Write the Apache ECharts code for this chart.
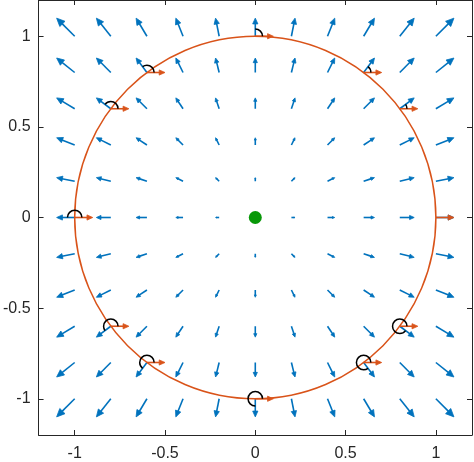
<!DOCTYPE html>
<html>
<head>
<meta charset="utf-8">
<script src="https://cdn.jsdelivr.net/npm/echarts@6/dist/echarts.min.js"></script>
<style>
html,body{margin:0;padding:0;background:#fff;}
#chart{width:474px;height:462px;}
</style>
</head>
<body>
<div id="chart"></div>
<script>
// Quiver grid positions
var gridX = [-1, -0.8, -0.6, -0.4, -0.2, 0, 0.2, 0.4, 0.6, 0.8, 1];
var gridY = [-1, -0.8, -0.6, -0.4, -0.2, 0, 0.2, 0.4, 0.6, 0.8, 1];
// Arrow components (data units) read per column / per row
var arrowDx = [-0.1, -0.08, -0.06, -0.04, -0.02, 0, 0.02, 0.04, 0.06, 0.08, 0.1];
var arrowDy = [-0.1, -0.08, -0.06, -0.04, -0.02, 0, 0.02, 0.04, 0.06, 0.08, 0.1];
// Circle
var circleCenter = [0, 0];
var circleRadius = 1;
// Points on circle with angle arcs and x-direction arrows
var ptX = [1, 0.8, 0.6, 0, -0.6, -0.8, -1, -0.8, -0.6, 0, 0.6, 0.8];
var ptY = [0, 0.6, 0.8, 1, 0.8, 0.6, 0, -0.6, -0.8, -1, -0.8, -0.6];
var ptAngleDeg = [0, 36.87, 53.13, 90, 126.87, 143.13, 180, 216.87, 233.13, 270, 306.87, 323.13];
var arcRadius = 0.04;
var tangentDx = 0.1;
// Origin marker
var originPt = [0, 0];
// Ticks
var tickVals = [-1, -0.5, 0, 0.5, 1];
var xTickLabels = ['-1', '-0.5', '0', '0.5', '1'];
var yTickLabels = ['-1', '-0.5', '0', '0.5', '1'];

var BLUE = '#0072BD', ORANGE = '#D95319', AXC = '#262626';

var quiverData = [];
for (var i = 0; i < gridY.length; i++) {
  for (var j = 0; j < gridX.length; j++) {
    quiverData.push([gridX[j], gridY[i], arrowDx[j], arrowDy[i]]);
  }
}
var tangentData = [];
var arcData = [];
for (var k = 0; k < ptX.length; k++) {
  tangentData.push([ptX[k], ptY[k], tangentDx, 0]);
  arcData.push([ptX[k], ptY[k], ptAngleDeg[k]]);
}

function arrowItem(color, lw) {
  return function (params, api) {
    var x = api.value(0), y = api.value(1), dx = api.value(2), dy = api.value(3);
    var p0 = api.coord([x, y]);
    var p1 = api.coord([x + dx, y + dy]);
    var vx = p1[0] - p0[0], vy = p1[1] - p0[1];
    var len = Math.sqrt(vx * vx + vy * vy);
    if (len < 0.01) return { type: 'group', children: [] };
    var ux = vx / len, uy = vy / len;
    var hl = 0.32 * len, hw = 0.45 * hl;
    var bx = p1[0] - ux * hl, by = p1[1] - uy * hl;
    return {
      type: 'group',
      children: [
        { type: 'line', shape: { x1: p0[0], y1: p0[1], x2: bx + ux * 0.5, y2: by + uy * 0.5 },
          style: { stroke: color, lineWidth: lw } },
        { type: 'polygon', shape: { points: [[p1[0], p1[1]], [bx - uy * hw, by + ux * hw], [bx + uy * hw, by - ux * hw]] },
          style: { fill: color, stroke: color, lineWidth: 0.8, lineJoin: 'miter' } }
      ]
    };
  };
}

function tickFmt(labels) {
  return function (v) {
    for (var i = 0; i < tickVals.length; i++) if (Math.abs(v - tickVals[i]) < 1e-9) return labels[i];
    return '';
  };
}

var chart = echarts.init(document.getElementById('chart'), null, { renderer: 'canvas' });
var axisCommon = {
  type: 'value', min: -1.2, max: 1.2,
  axisLine: { show: true, onZero: false, lineStyle: { color: AXC, width: 1 } },
  splitLine: { show: false }
};
chart.setOption({
  animation: false,
  backgroundColor: '#fff',
  grid: { left: 35, right: 2, top: 0, bottom: 25, containLabel: false },
  xAxis: [
    Object.assign({}, axisCommon, {
      position: 'bottom',
      axisTick: { show: true, inside: true, length: 5, customValues: tickVals, lineStyle: { color: AXC } },
      axisLabel: { show: true, customValues: tickVals, formatter: tickFmt(xTickLabels), margin: 11,
        color: AXC, fontSize: 16, fontFamily: 'Liberation Sans, Arial, sans-serif' }
    }),
    Object.assign({}, axisCommon, {
      position: 'top',
      axisTick: { show: true, inside: true, length: 5, customValues: tickVals, lineStyle: { color: AXC } },
      axisLabel: { show: false }
    })
  ],
  yAxis: [
    Object.assign({}, axisCommon, {
      position: 'left',
      axisTick: { show: true, inside: true, length: 5, customValues: tickVals, lineStyle: { color: AXC } },
      axisLabel: { show: true, customValues: tickVals, formatter: tickFmt(yTickLabels), margin: 8,
        color: AXC, fontSize: 16, fontFamily: 'Liberation Sans, Arial, sans-serif' }
    }),
    Object.assign({}, axisCommon, {
      position: 'right',
      axisTick: { show: true, inside: true, length: 5, customValues: tickVals, lineStyle: { color: AXC } },
      axisLabel: { show: false }
    })
  ],
  series: [
    {
      type: 'custom', name: 'field', xAxisIndex: 0, yAxisIndex: 0,
      data: quiverData, renderItem: arrowItem(BLUE, 1.6), z: 2, silent: true,
      encode: { x: 0, y: 1 }
    },
    {
      type: 'custom', name: 'circle', xAxisIndex: 0, yAxisIndex: 0,
      data: [[circleCenter[0], circleCenter[1], circleRadius]], z: 3, silent: true,
      encode: { x: 0, y: 1 },
      renderItem: function (params, api) {
        var c = api.coord([api.value(0), api.value(1)]);
        var s = api.size([api.value(2), api.value(2)]);
        return { type: 'ellipse', shape: { cx: c[0], cy: c[1], rx: s[0], ry: s[1] },
          style: { fill: 'none', stroke: ORANGE, lineWidth: 1.5 } };
      }
    },
    {
      type: 'custom', name: 'tangent', xAxisIndex: 0, yAxisIndex: 0,
      data: tangentData, renderItem: arrowItem(ORANGE, 1.6), z: 4, silent: true,
      encode: { x: 0, y: 1 }
    },
    {
      type: 'custom', name: 'angle', xAxisIndex: 0, yAxisIndex: 0,
      data: arcData, z: 5, silent: true,
      encode: { x: 0, y: 1 },
      renderItem: function (params, api) {
        var c = api.coord([api.value(0), api.value(1)]);
        var r = api.size([arcRadius, arcRadius])[0];
        var a = api.value(2) * Math.PI / 180;
        if (a < 1e-6) return { type: 'group', children: [] };
        return { type: 'arc', shape: { cx: c[0], cy: c[1], r: r, startAngle: 0, endAngle: -a, clockwise: false },
          style: { fill: 'none', stroke: '#000', lineWidth: 1.5 } };
      }
    },
    {
      type: 'scatter', name: 'origin', xAxisIndex: 0, yAxisIndex: 0,
      data: [originPt], symbol: 'circle', symbolSize: 13, z: 6, silent: true,
      itemStyle: { color: '#089808', opacity: 1 }
    }
  ]
});
</script>
</body>
</html>
